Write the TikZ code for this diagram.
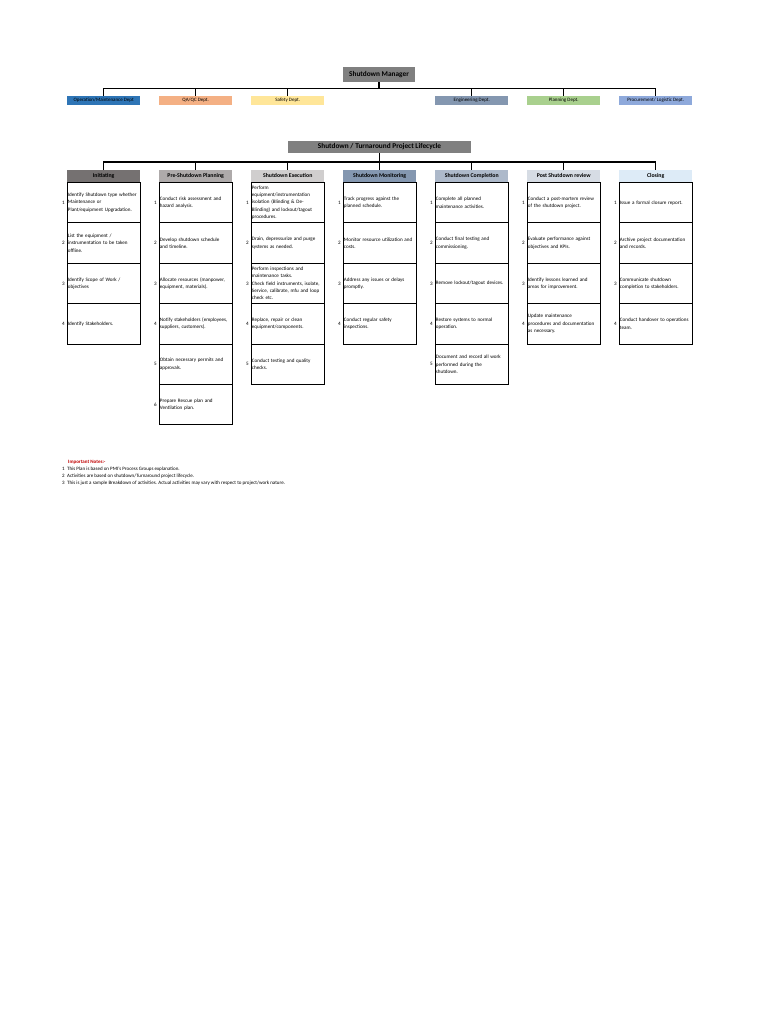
\documentclass[tikz,border=0pt]{standalone}
\usepackage{fontspec}
\setmainfont{Carlito}
\usetikzlibrary{calc}
\definecolor{headgrey}{HTML}{808080}
\definecolor{cInit}{HTML}{757171}
\definecolor{cPre}{HTML}{AEAAAA}
\definecolor{cExe}{HTML}{D0CECE}
\definecolor{cMon}{HTML}{8497B0}
\definecolor{cCom}{HTML}{ADB9CA}
\definecolor{cPost}{HTML}{D6DCE4}
\definecolor{cClo}{HTML}{DDEBF7}
\definecolor{dOpe}{HTML}{2E75B6}
\definecolor{dQa}{HTML}{F4B084}
\definecolor{dSaf}{HTML}{FFE699}
\definecolor{dEng}{HTML}{8497B0}
\definecolor{dPla}{HTML}{A9D08E}
\definecolor{dPro}{HTML}{8EA9DB}
\definecolor{notered}{HTML}{C00000}
\tikzset{
  conn/.style={line width=1.1pt, draw=black},
  bighead/.style={fill=headgrey, inner sep=0pt, text height=5.3pt, text depth=1.6pt, font=\bfseries\fontsize{7.3}{9}\selectfont},
  dept/.style={minimum width=73pt, minimum height=9pt, inner sep=0pt, text height=3.6pt, text depth=1.1pt, anchor=north west, font=\fontsize{5}{6}\selectfont},
  colhead/.style={minimum width=73pt, minimum height=12pt, inner sep=0pt, text height=4.2pt, text depth=1.3pt, anchor=north west, font=\bfseries\fontsize{5.8}{7}\selectfont},
  itembox/.style={draw=black, line width=0.9pt, minimum height=40.4pt, text width=72pt, inner xsep=0.5pt, inner ysep=0pt, align=left, anchor=north west, font=\fontsize{5.1}{7.3}\selectfont},
  num/.style={anchor=east, inner sep=0pt, font=\fontsize{5.1}{6}\selectfont},
  note/.style={anchor=west, inner sep=0pt, font=\fontsize{5}{6}\selectfont},
}
\newcommand{\itm}[5]{%
  \node[itembox] (#1) at (#2, {182+40.4*(#3-1)}) {#5};
  \node[num] (#1n) at ([xshift=-2pt]#1.west) {#4};
}
\begin{document}
\begin{tikzpicture}[x=1pt,y=-1pt]
\useasboundingbox[fill=white] (0,0) rectangle (768,1024);

% Manager and departments
\node[bighead, minimum width=72pt, minimum height=15pt] (mgr) at (379,74.5) {Shutdown Manager};
\node[dept, fill=dOpe] (d1) at (67,96) {Operation/Maintenance Dept};
\node[dept, fill=dQa] (d2) at (159,96) {QA/QC Dept.};
\node[dept, fill=dSaf] (d3) at (251,96) {Safety Dept.};
\node[dept, fill=dEng] (d4) at (435,96) {Engineering Dept.};
\node[dept, fill=dPla] (d5) at (527,96) {Planning Dept.};
\node[dept, fill=dPro] (d6) at (619,96) {Procurement/ Logistic Dept.};
\draw[conn] (mgr.south) -- ++(0,6.5);
\draw[conn] (d1.north) |- ($(d6.north)+(0,-7.5)$) -- (d6.north);
\draw[conn] (d2.north) -- ++(0,-7.5);
\draw[conn] (d3.north) -- ++(0,-7.5);
\draw[conn] (d4.north) -- ++(0,-7.5);
\draw[conn] (d5.north) -- ++(0,-7.5);

% Lifecycle
\node[bighead, minimum width=183pt, minimum height=12.5pt] (lc) at (379.5,147) {Shutdown / Turnaround Project Lifecycle};
\node[colhead, fill=cInit] (h1) at (67,170) {Initiating};
\node[colhead, fill=cPre] (h2) at (159,170) {Pre-Shutdown Planning};
\node[colhead, fill=cExe] (h3) at (251,170) {Shutdown Execution};
\node[colhead, fill=cMon] (h4) at (343,170) {Shutdown Monitoring};
\node[colhead, fill=cCom] (h5) at (435,170) {Shutdown Completion};
\node[colhead, fill=cPost] (h6) at (527,170) {Post Shutdown review};
\node[colhead, fill=cClo] (h7) at (619,170) {Closing};
\draw[conn] (lc.south) -- ($(lc.south)+(0,8.8)$);
\draw[conn] (h1.north) |- ($(h7.north)+(0,-8)$) -- (h7.north);
\draw[conn] (h2.north) -- ++(0,-8);
\draw[conn] (h3.north) -- ++(0,-8);
\draw[conn] (h4.north) -- ++(0,-8);
\draw[conn] (h5.north) -- ++(0,-8);
\draw[conn] (h6.north) -- ++(0,-8);

% Initiating
\itm{a1}{67}{1}{1}{Identify Shutdown type whether\\Maintenance or\\Plant/equipment Upgradation.}
\itm{a2}{67}{2}{2}{List the equipment /\\instrumentation to be taken\\offline.}
\itm{a3}{67}{3}{3}{Identify Scope of Work /\\objectives}
\itm{a4}{67}{4}{4}{Identify Stakeholders.}

% Pre-Shutdown Planning
\itm{b1}{159}{1}{1}{Conduct risk assessment and\\hazard analysis.}
\itm{b2}{159}{2}{2}{Develop shutdown schedule\\and timeline.}
\itm{b3}{159}{3}{3}{Allocate resources (manpower,\\equipment, materials).}
\itm{b4}{159}{4}{4}{Notify stakeholders (employees,\\suppliers, customers).}
\itm{b5}{159}{5}{5}{Obtain necessary permits and\\approvals.}
\itm{b6}{159}{6}{6}{Prepare Rescue plan and\\Ventilation plan.}

% Shutdown Execution
\itm{c1}{251}{1}{1}{Perform\\equipment/instrumentation\\isolation (Blinding \& De-\\Blinding) and lockout/tagout\\procedures.}
\itm{c2}{251}{2}{2}{Drain, depressurize and purge\\systems as needed.}
\itm{c3}{251}{3}{3}{Perform inspections and\\maintenance tasks.\\Check field instruments, isolate,\\Service, calibrate, mfu and loop\\check etc.}
\itm{c4}{251}{4}{4}{Replace, repair or clean\\equipment/components.}
\itm{c5}{251}{5}{5}{Conduct testing and quality\\checks.}

% Shutdown Monitoring
\itm{e1}{343}{1}{1}{Track progress against the\\planned schedule.}
\itm{e2}{343}{2}{2}{Monitor resource utilization and\\costs.}
\itm{e3}{343}{3}{3}{Address any issues or delays\\promptly.}
\itm{e4}{343}{4}{4}{Conduct regular safety\\inspections.}

% Shutdown Completion
\itm{f1}{435}{1}{1}{Complete all planned\\maintenance activities.}
\itm{f2}{435}{2}{2}{Conduct final testing and\\commissioning.}
\itm{f3}{435}{3}{3}{Remove lockout/tagout devices.}
\itm{f4}{435}{4}{4}{Restore systems to normal\\operation.}
\itm{f5}{435}{5}{5}{Document and record all work\\performed during the\\shutdown.}

% Post Shutdown review
\itm{g1}{527}{1}{1}{Conduct a post-mortem review\\of the shutdown project.}
\itm{g2}{527}{2}{2}{Evaluate performance against\\objectives and KPIs.}
\itm{g3}{527}{3}{3}{Identify lessons learned and\\areas for improvement.}
\itm{g4}{527}{4}{4}{Update maintenance\\procedures and documentation\\as necessary.}

% Closing
\itm{k1}{619}{1}{1}{Issue a formal closure report.}
\itm{k2}{619}{2}{2}{Archive project documentation\\and records.}
\itm{k3}{619}{3}{3}{Communicate shutdown\\completion to stakeholders.}
\itm{k4}{619}{4}{4}{Conduct handover to operations\\team.}

% Notes
\node[note, text=notered, font=\bfseries\fontsize{5}{6}\selectfont] (nt) at (68,462) {Important Notes:-};
\node[note] (n1n) at (62,469) {1};
\node[note] (n1) at (67,469) {This Plan is based on PMI's Process Groups explanation.};
\node[note] (n2n) at (62,476) {2};
\node[note] (n2) at (67,476) {Activities are based on shutdown/Turnaround project lifecycle.};
\node[note] (n3n) at (62,483) {3};
\node[note] (n3) at (67,483) {This is just a sample Breakdown of activities. Actual activities may vary with respect to project/work nature.};
\end{tikzpicture}
\end{document}
